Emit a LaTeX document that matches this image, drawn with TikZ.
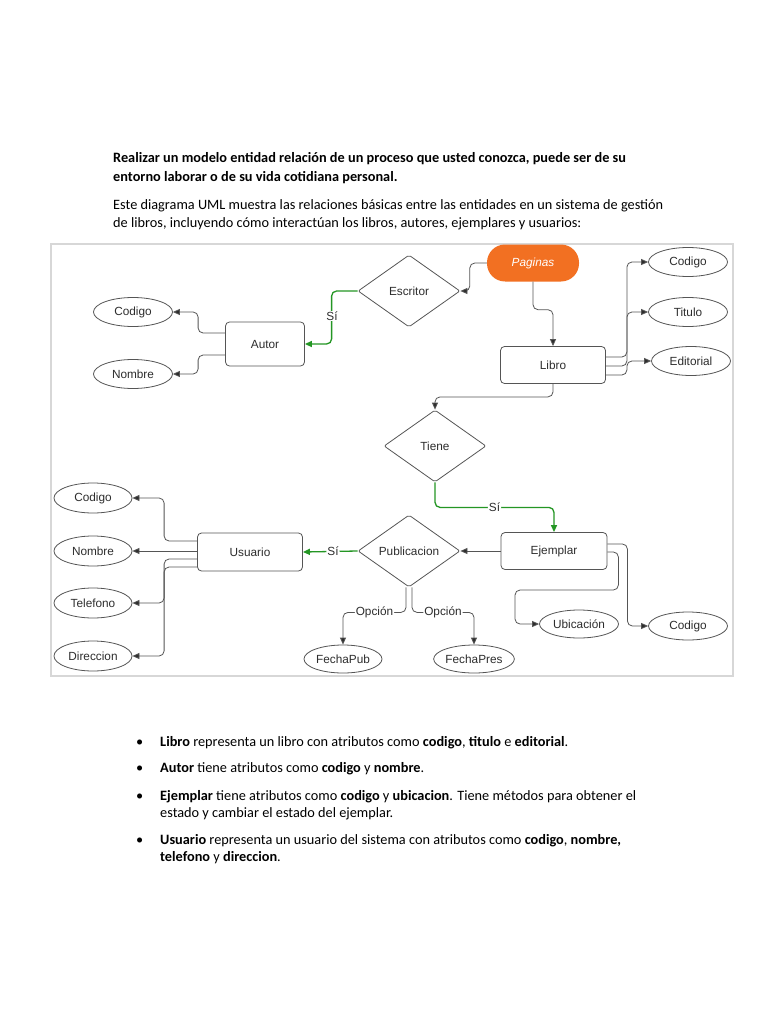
\documentclass[tikz,border=0pt]{standalone}
\usepackage{fontspec}
\setmainfont{Carlito}
\newfontfamily\diag{Liberation Sans}
\usetikzlibrary{shapes.geometric,arrows.meta,calc}
\definecolor{linec}{RGB}{85,85,85}
\definecolor{tipc}{RGB}{45,45,45}
\definecolor{greenc}{RGB}{36,150,36}
\definecolor{orangec}{RGB}{242,112,34}
\definecolor{framec}{RGB}{215,215,215}
\definecolor{txtc}{RGB}{45,45,45}
\begin{document}
\begin{tikzpicture}[x=1pt,y=-1pt,
 every node/.style={font=\diag\fontsize{11.8}{14}\selectfont, text=txtc},
 ent/.style={draw=linec, rounded corners=4pt, minimum width=105, minimum height=37, line width=0.8pt},
 attr/.style={ellipse, draw=linec, minimum width=79, minimum height=29, inner sep=0pt, line width=0.8pt},
 rel/.style={diamond, draw=linec, minimum width=102, minimum height=72, inner sep=0pt, line width=0.8pt, rounded corners=2pt},
 conn/.style={draw=linec, line width=0.8pt, rounded corners=5pt, -{Triangle[length=7pt,width=6pt,fill=tipc]}},
 gconn/.style={draw=greenc, line width=1.3pt, rounded corners=5pt, -{Triangle[length=7pt,width=6pt]}},
 lbl/.style={fill=white, inner sep=1pt},
 page/.style={anchor=base west, inner sep=0pt, font=\fontsize{14.3}{17}\selectfont, text=black}
]
\useasboundingbox (0,0) rectangle (768,1024);
\fill[white] (0,0) rectangle (768,1024);

% page text
\node[page] (t1) at (113,163) {\textbf{Realizar un modelo entidad relación de un proceso que usted conozca, puede ser de su}};
\node[page] (t2) at (113,182) {\textbf{entorno laborar o de su vida cotidiana personal.}};
\node[page] (t3) at (113,210) {Este diagrama UML muestra las relaciones básicas entre las entidades en un sistema de gestión};
\node[page] (t4) at (113,228) {de libros, incluyendo cómo interactúan los libros, autores, ejemplares y usuarios:};

% frame
\draw[framec, line width=1.5pt] (51,244) rectangle (733,676);

% nodes
\node[rel] (escritor) at (409,291) {Escritor};
\node[draw=none, fill=orangec, rounded corners=18pt, minimum width=92, minimum height=37, text=white, font=\diag\itshape\fontsize{11.8}{14}\selectfont] (paginas) at (533,263) {Paginas};
\node[ent] (libro) at (553,365) {Libro};
\node[attr] (codL) at (688,262) {Codigo};
\node[attr] (titulo) at (688,312) {Titulo};
\node[attr] (editorial) at (691,361) {Editorial};
\node[ent, minimum width=79, minimum height=44] (autor) at (265,344) {Autor};
\node[attr] (codA) at (133,312) {Codigo};
\node[attr] (nombreA) at (133,374) {Nombre};
\node[rel] (tiene) at (435,446) {Tiene};
\node[ent, minimum width=106] (ejemplar) at (554,551) {Ejemplar};
\node[rel] (publicacion) at (409,551) {Publicacion};
\node[ent, minimum height=38] (usuario) at (250,552) {Usuario};
\node[attr, minimum width=78, minimum height=30] (codU) at (93,498) {Codigo};
\node[attr, minimum width=78, minimum height=30] (nombreU) at (93,551) {Nombre};
\node[attr, minimum width=78, minimum height=30] (telefono) at (93,603) {Telefono};
\node[attr, minimum width=78, minimum height=30] (direccion) at (93,656) {Direccion};
\node[attr, minimum width=78, minimum height=28] (fechapub) at (343,659) {FechaPub};
\node[attr, minimum width=78, minimum height=28] (fechapres) at (474,659) {FechaPres};
\node[attr, minimum height=28] (ubicacion) at (579,624) {Ubicación};
\node[attr, minimum height=28] (codE) at (688,626) {Codigo};

% connectors
\draw[gconn] (escritor.west) -- ++(-26,0) |- (autor.east);
\node[lbl] (si1) at (332,316) {Sí};
\draw[conn] (paginas.west) -- ++(-17,0) |- (escritor.east);
\draw[conn] (paginas.south) -- ++(0,28) -| (libro.north);
\draw[conn] ($(autor.west)+(0,-11)$) -- ++(-27,0) |- (codA.east);
\draw[conn] ($(autor.west)+(0,11)$) -- ++(-27,0) |- (nombreA.east);
\draw[conn] ($(libro.east)+(0,-8)$) -- ++(21,0) |- (codL.west);
\draw[conn] ($(libro.east)+(0,1)$) -- ++(21,0) |- (titulo.west);
\draw[conn] ($(libro.east)+(0,10)$) -- ++(21,0) |- (editorial.west);
\draw[conn] (libro.south) -- ++(0,13) -| (tiene.north);
\draw[gconn] (tiene.south) -- ++(0,25) -| node[lbl, pos=0.25, text=txtc] (si2) {Sí} (ejemplar.north);
\draw[conn] (ejemplar.west) -- (publicacion.east);
\draw[gconn] (publicacion.west) -- node[lbl, pos=0.45] (si3) {Sí} (usuario.east);
\draw[conn] ($(usuario.west)+(0,-11)$) -- ++(-33,0) |- (codU.east);
\draw[conn] (usuario.west |- nombreU.east) -- (nombreU.east);
\draw[conn] ($(usuario.west)+(0,7)$) -- ++(-33,0) |- (telefono.east);
\draw[conn] ($(usuario.west)+(0,15)$) -- ++(-33,0) |- (direccion.east);
\draw[conn] ($(ejemplar.east)+(0,-7)$) -- ++(20,0) |- (codE.west);
\coordinate (ubturn) at (515,590);
\draw[conn] ($(ejemplar.east)+(0,1)$) -- ++(11,0) |- (ubturn) |- (ubicacion.west);
\draw[conn] ($(publicacion.south)+(-3,0)$) -- ++(0,25) -| node[lbl, pos=0.25] (op1) {Opción} (fechapub.north);
\draw[conn] ($(publicacion.south)+(3,0)$) -- ++(0,25) -| node[lbl, pos=0.25] (op2) {Opción} (fechapres.north);

% bullets
\node[page] (d1) at (136,746) {•};
\node[page] (b1) at (160,746) {\textbf{Libro} representa un libro con atributos como \textbf{codigo}, \textbf{titulo} e \textbf{editorial}.};
\node[page] (d2) at (136,772) {•};
\node[page] (b2) at (160,772) {\textbf{Autor} tiene atributos como \textbf{codigo} y \textbf{nombre}.};
\node[page] (d3) at (136,800) {•};
\node[page] (b3) at (160,800) {\textbf{Ejemplar} tiene atributos como \textbf{codigo} y \textbf{ubicacion}. Tiene métodos para obtener el};
\node[page] (b3b) at (160,817) {estado y cambiar el estado del ejemplar.};
\node[page] (d4) at (136,844) {•};
\node[page] (b4) at (160,844) {\textbf{Usuario} representa un usuario del sistema con atributos como \textbf{codigo}, \textbf{nombre,}};
\node[page] (b4b) at (160,861) {\textbf{telefono} y \textbf{direccion}.};
\end{tikzpicture}
\end{document}
